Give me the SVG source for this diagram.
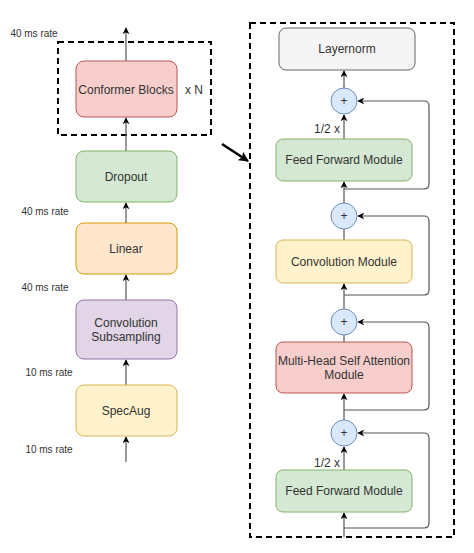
<svg xmlns="http://www.w3.org/2000/svg" width="474" height="553" viewBox="0 0 474 553">
<defs>
<marker id="ah" viewBox="0 0 10 10" refX="9" refY="5" markerWidth="7" markerHeight="7" orient="auto" markerUnits="userSpaceOnUse"><path d="M0,0 L10,5 L0,10 L3,5 Z" fill="#000"/></marker>
<marker id="big" viewBox="0 0 10 10" refX="9" refY="5" markerWidth="10" markerHeight="10" orient="auto" markerUnits="userSpaceOnUse"><path d="M0,0 L10,5 L0,10 L2,5 Z" fill="#000"/></marker>
<style>
text{font-family:"Liberation Sans",Arial,sans-serif;fill:#333;text-anchor:middle;dominant-baseline:central}
.lab{font-size:12px}
.rate{font-size:10px}
.c{fill:none;stroke:#555;stroke-width:1.2;marker-end:url(#ah)}
.l{fill:none;stroke:#555;stroke-width:1.2}
.dash{fill:none;stroke:#000;stroke-width:2;stroke-dasharray:6 4}
.plus{fill:#dae8fc;stroke:#6c8ebf;stroke-width:1}
</style>
</defs>
<rect width="474" height="553" fill="#fff"/>
<g id="frames">
<rect class="dash" x="58" y="42" width="153" height="93"/>
<rect class="dash" x="250" y="23" width="204" height="514"/>
</g>
<g id="connectors">
<line class="c" x1="126" y1="462" x2="126" y2="437"/>
<line class="c" x1="126" y1="385" x2="126" y2="360"/>
<line class="c" x1="126" y1="300" x2="126" y2="275"/>
<line class="c" x1="126" y1="223" x2="126" y2="203"/>
<line class="c" x1="126" y1="151" x2="126" y2="118"/>
<line class="c" x1="126" y1="61" x2="126" y2="28"/>
<line fill="none" stroke="#000" stroke-width="2.5" marker-end="url(#big)" x1="222" y1="144" x2="248" y2="161"/>
<line class="c" x1="344" y1="537" x2="344" y2="513"/>
<line class="c" x1="344" y1="470" x2="344" y2="447"/>
<path class="c" d="M344,528 H424 Q429,528 429,523 V438 Q429,433 424,433 H358"/>
<line class="c" x1="344" y1="420" x2="344" y2="394"/>
<line class="l" x1="344" y1="342" x2="344" y2="335"/>
<path class="c" d="M344,410 H424 Q429,410 429,405 V327 Q429,322 424,322 H358"/>
<line class="c" x1="344" y1="309" x2="344" y2="284"/>
<line class="l" x1="344" y1="240" x2="344" y2="229"/>
<path class="c" d="M344,295 H424 Q429,295 429,290 V221 Q429,216 424,216 H358"/>
<line class="c" x1="344" y1="203" x2="344" y2="182"/>
<line class="c" x1="344" y1="139" x2="344" y2="115"/>
<path class="c" d="M344,189 H424 Q429,189 429,184 V106 Q429,101 424,101 H358"/>
<line class="c" x1="344" y1="88" x2="344" y2="71"/>
</g>
<g id="rates">
<text class="rate" x="34" y="33">40 ms rate</text>
<text class="rate" x="45" y="211">40 ms rate</text>
<text class="rate" x="45" y="287">40 ms rate</text>
<text class="rate" x="49" y="372">10 ms rate</text>
<text class="rate" x="49" y="449">10 ms rate</text>
<text class="lab" x="194" y="90">x N</text>
<text class="lab" x="327" y="129">1/2 x</text>
<text class="lab" x="327" y="463">1/2 x</text>
</g>
<g id="conformer"><rect x="76" y="61" width="101" height="56" rx="8" fill="#f8cecc" stroke="#b85450"/><text class="lab" x="126" y="90">Conformer Blocks</text></g>
<g id="dropout"><rect x="76" y="151" width="101" height="51" rx="8" fill="#d5e8d4" stroke="#82b366"/><text class="lab" x="126" y="177">Dropout</text></g>
<g id="linear"><rect x="76" y="223" width="101" height="51" rx="8" fill="#ffe6cc" stroke="#d79b00"/><text class="lab" x="126" y="249">Linear</text></g>
<g id="convsub"><rect x="76" y="300" width="101" height="59" rx="8" fill="#e1d5e7" stroke="#9673a6"/><text class="lab" x="126" y="323">Convolution</text><text class="lab" x="126" y="337">Subsampling</text></g>
<g id="specaug"><rect x="76" y="385" width="101" height="51" rx="8" fill="#fff2cc" stroke="#d6b656"/><text class="lab" x="126" y="411">SpecAug</text></g>
<g id="layernorm"><rect x="279" y="28" width="136" height="42" rx="7" fill="#f5f5f5" stroke="#666"/><text class="lab" x="347" y="49">Layernorm</text></g>
<g id="plus1"><circle class="plus" cx="344" cy="101" r="13"/><text class="lab" x="344" y="101">+</text></g>
<g id="ffm2"><rect x="276" y="139" width="136" height="42" rx="7" fill="#d5e8d4" stroke="#82b366"/><text class="lab" x="344" y="160">Feed Forward Module</text></g>
<g id="plus2"><circle class="plus" cx="344" cy="216" r="13"/><text class="lab" x="344" y="216">+</text></g>
<g id="conv"><rect x="276" y="240" width="136" height="43" rx="7" fill="#fff2cc" stroke="#d6b656"/><text class="lab" x="344" y="262">Convolution Module</text></g>
<g id="plus3"><circle class="plus" cx="344" cy="322" r="13"/><text class="lab" x="344" y="322">+</text></g>
<g id="mhsa"><rect x="276" y="342" width="136" height="51" rx="7" fill="#f8cecc" stroke="#b85450"/><text class="lab" x="344" y="361">Multi-Head Self Attention</text><text class="lab" x="344" y="375">Module</text></g>
<g id="plus4"><circle class="plus" cx="344" cy="433" r="13"/><text class="lab" x="344" y="433">+</text></g>
<g id="ffm1"><rect x="276" y="470" width="136" height="42" rx="7" fill="#d5e8d4" stroke="#82b366"/><text class="lab" x="344" y="491">Feed Forward Module</text></g>
</svg>
